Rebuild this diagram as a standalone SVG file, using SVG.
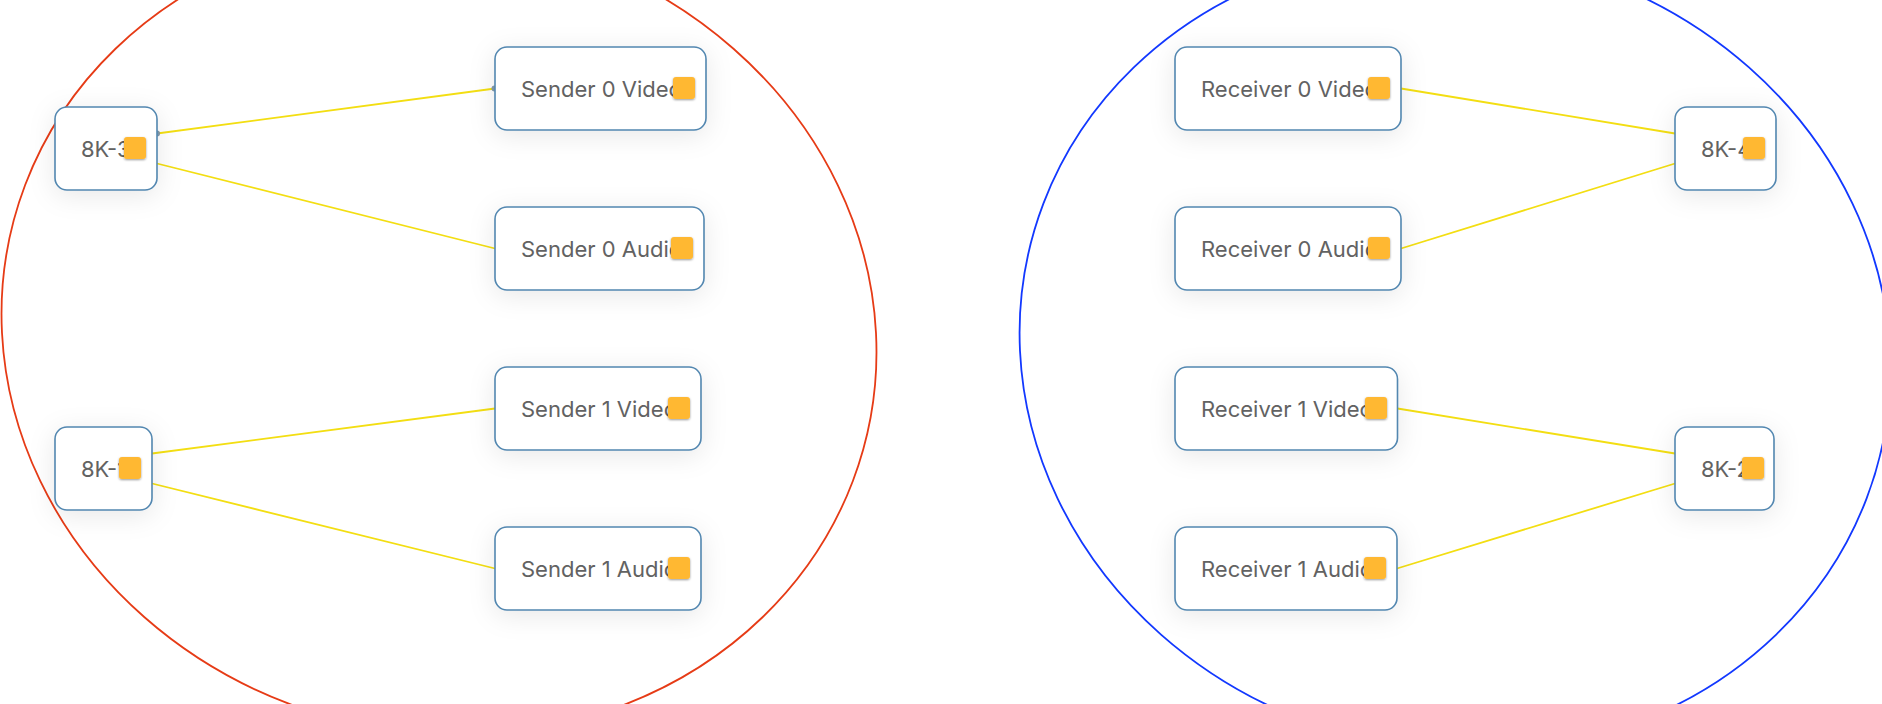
<svg xmlns="http://www.w3.org/2000/svg" width="1882" height="704" viewBox="0 0 1882 704">
  <defs>
    <filter id="nodeShadow" x="-50%" y="-80%" width="200%" height="260%">
      <feDropShadow dx="0" dy="5" stdDeviation="13" flood-color="#000" flood-opacity="0.09"/>
    </filter>
    <filter id="portShadow" x="-50%" y="-50%" width="200%" height="200%">
      <feDropShadow dx="0" dy="1" stdDeviation="1.2" flood-color="#000" flood-opacity="0.4"/>
    </filter>
  </defs>
  <style>
    .box { fill: #ffffff; stroke: #5287b0; stroke-width: 1.6; filter: url(#nodeShadow); }
    .label { font-family: Inter, "Noto Sans", "Liberation Sans", sans-serif; font-size: 22px; fill: #626262; }
    .port { fill: #ffb833; filter: url(#portShadow); }
    .edge { stroke: #f3de12; stroke-width: 1.8; fill: none; }
    .dot { fill: #8499ab; }
    .zone { fill: none; stroke-width: 1.8; vector-effect: non-scaling-stroke; }
  </style>

  <g id="zones">
    <ellipse class="zone" cx="0" cy="0" rx="437" ry="402" stroke="#e63b16" transform="matrix(1 0 0.051 1 439 333)"/>
    <ellipse class="zone" cx="0" cy="0" rx="435" ry="401" stroke="#1238ff" transform="matrix(1 0 0.048 1 1455 351)"/>
  </g>

  <g id="connectors">
    <line class="edge" x1="157" y1="133.5" x2="495" y2="88.5"/>
    <line class="edge" x1="157" y1="163.5" x2="495" y2="248.5"/>
    <line class="edge" x1="152" y1="453.5" x2="495" y2="408.5"/>
    <line class="edge" x1="152" y1="483.5" x2="495" y2="568.5"/>
    <line class="edge" x1="1401" y1="88.5" x2="1675" y2="133.5"/>
    <line class="edge" x1="1401" y1="248.5" x2="1675" y2="163.5"/>
    <line class="edge" x1="1397.5" y1="408.5" x2="1675" y2="453.5"/>
    <line class="edge" x1="1397" y1="568.5" x2="1675" y2="483.5"/>
    <circle class="dot" cx="157" cy="133.5" r="3"/>
    <circle class="dot" cx="494.5" cy="88.5" r="3"/>
  </g>

  <g id="node-8k3">
    <rect class="box" x="55" y="107" width="102" height="83" rx="12"/>
    <text class="label" x="81" y="156.5">8K-3</text>
    <rect class="port" x="124" y="137" width="22" height="22" rx="3"/>
  </g>
  <g id="node-8k1">
    <rect class="box" x="55" y="427" width="97" height="83" rx="12"/>
    <text class="label" x="81" y="476.5">8K-1</text>
    <rect class="port" x="119" y="457" width="22" height="22" rx="3"/>
  </g>
  <g id="node-sender0video">
    <rect class="box" x="495" y="47" width="211" height="83" rx="12"/>
    <text class="label" x="521" y="96.5">Sender 0 Video</text>
    <rect class="port" x="673" y="77" width="22" height="22" rx="3"/>
  </g>
  <g id="node-sender0audio">
    <rect class="box" x="495" y="207" width="209" height="83" rx="12"/>
    <text class="label" x="521" y="256.5">Sender 0 Audio</text>
    <rect class="port" x="671" y="237" width="22" height="22" rx="3"/>
  </g>
  <g id="node-sender1video">
    <rect class="box" x="495" y="367" width="206" height="83" rx="12"/>
    <text class="label" x="521" y="416.5">Sender 1 Video</text>
    <rect class="port" x="668" y="397" width="22" height="22" rx="3"/>
  </g>
  <g id="node-sender1audio">
    <rect class="box" x="495" y="527" width="206" height="83" rx="12"/>
    <text class="label" x="521" y="576.5">Sender 1 Audio</text>
    <rect class="port" x="668" y="557" width="22" height="22" rx="3"/>
  </g>

  <g id="node-receiver0video">
    <rect class="box" x="1175" y="47" width="226" height="83" rx="12"/>
    <text class="label" x="1201" y="96.5">Receiver 0 Video</text>
    <rect class="port" x="1368" y="77" width="22" height="22" rx="3"/>
  </g>
  <g id="node-receiver0audio">
    <rect class="box" x="1175" y="207" width="226" height="83" rx="12"/>
    <text class="label" x="1201" y="256.5">Receiver 0 Audio</text>
    <rect class="port" x="1368" y="237" width="22" height="22" rx="3"/>
  </g>
  <g id="node-receiver1video">
    <rect class="box" x="1175" y="367" width="222.5" height="83" rx="12"/>
    <text class="label" x="1201" y="416.5">Receiver 1 Video</text>
    <rect class="port" x="1365" y="397" width="22" height="22" rx="3"/>
  </g>
  <g id="node-receiver1audio">
    <rect class="box" x="1175" y="527" width="222" height="83" rx="12"/>
    <text class="label" x="1201" y="576.5">Receiver 1 Audio</text>
    <rect class="port" x="1364" y="557" width="22" height="22" rx="3"/>
  </g>
  <g id="node-8k4">
    <rect class="box" x="1675" y="107" width="101" height="83" rx="12"/>
    <text class="label" x="1701" y="156.5">8K-4</text>
    <rect class="port" x="1743" y="137" width="22" height="22" rx="3"/>
  </g>
  <g id="node-8k2">
    <rect class="box" x="1675" y="427" width="99" height="83" rx="12"/>
    <text class="label" x="1701" y="476.5">8K-2</text>
    <rect class="port" x="1742" y="457" width="22" height="22" rx="3"/>
  </g>
</svg>
